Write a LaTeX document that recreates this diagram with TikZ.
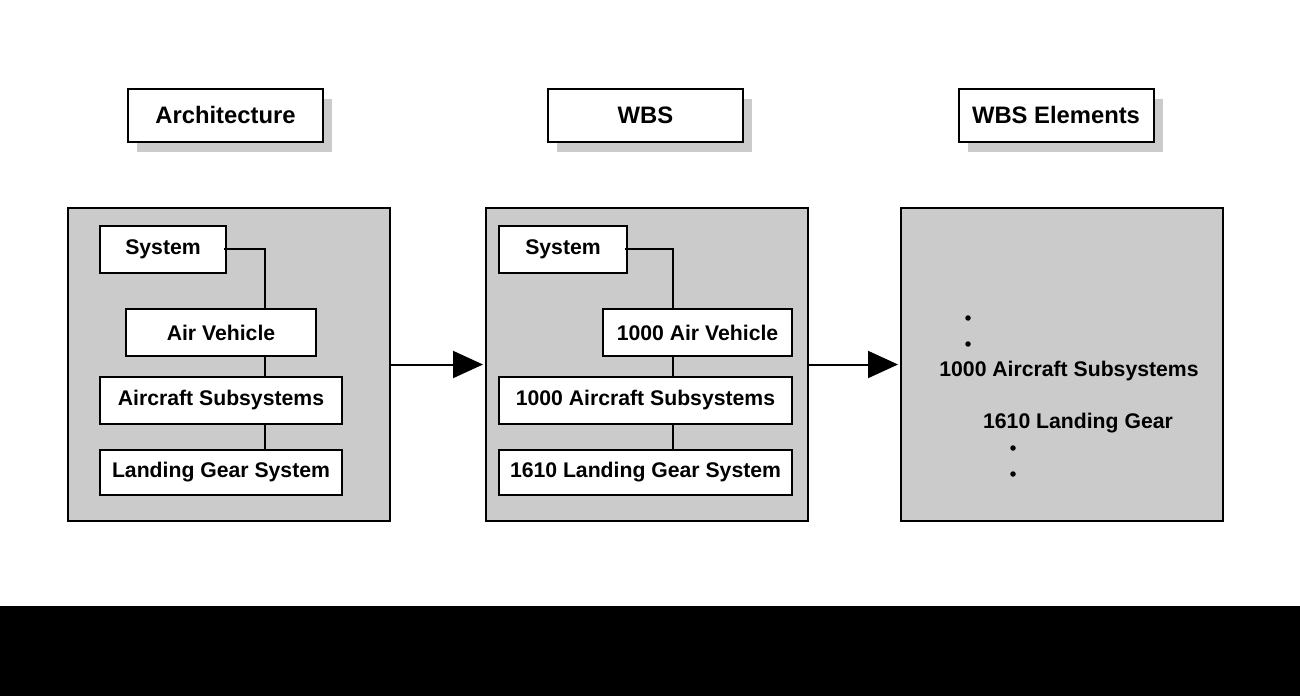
\documentclass[tikz,border=0pt]{standalone}
\usepackage{fontspec}
\setmainfont{Liberation Sans}
\usetikzlibrary{arrows.meta,shadows}
\definecolor{panelgray}{HTML}{CBCBCB}
\begin{document}
\begin{tikzpicture}[x=1pt,y=-1pt,
  titlebox/.style={draw=black,line width=2pt,fill=white,inner sep=0pt,
    minimum width=195pt,minimum height=53pt,font=\fontsize{23.8}{27}\selectfont\bfseries,
    drop shadow={shadow xshift=9pt,shadow yshift=-10pt,fill=panelgray,opacity=1}},
  panel/.style={draw=black,line width=2pt,fill=panelgray,inner sep=0pt,
    minimum width=322pt,minimum height=313pt},
  itembox/.style={draw=black,line width=2pt,fill=white,inner sep=0pt,
    minimum height=47pt,font=\fontsize{21.2}{25}\selectfont\bfseries},
  plain/.style={inner sep=0pt,font=\fontsize{21.2}{25}\selectfont\bfseries},
  link/.style={draw=black,line width=2pt},
  bigarrow/.style={draw=black,line width=2pt,-{Triangle[length=30pt,width=27pt]}},
  dotmark/.style={fill=black,circle,inner sep=0pt,minimum size=5.5pt}
]
\useasboundingbox (0,0) rectangle (1300,696);
\fill[white] (0,0) rectangle (1300,696);
\fill[black] (0,606) rectangle (1300,696);

% titles
\node[titlebox] (t1) at (225.5,115) {Architecture};
\node[titlebox] (t2) at (645.5,115) {WBS};
\node[titlebox] (t3) at (1056,115) {WBS Elements};

% panels
\node[panel] (p1) at (229,364.5) {};
\node[panel] (p2) at (647,364.5) {};
\node[panel] (p3) at (1062,364.5) {};

% left panel
\node[itembox,minimum width=126pt] (lsys) at (163,249) {System};
\node[itembox,minimum width=190pt] (lav) at (221,332.5) {Air Vehicle};
\node[itembox,minimum width=242pt] (lacs) at (221,400.5) {Aircraft Subsystems};
\node[itembox,minimum width=242pt,minimum height=45pt] (llgs) at (221,472.5) {Landing Gear System};
\coordinate (lbus) at (265,0);
\draw[link] ([xshift=-3pt]lsys.east) -| (lbus |- lav.north);
\draw[link] (lbus |- lav.south) -- (lbus |- lacs.north);
\draw[link] (lbus |- lacs.south) -- (lbus |- llgs.north);

% middle panel
\node[itembox,minimum width=128pt] (msys) at (563,249) {System};
\node[itembox,minimum width=189pt] (mav) at (697.5,332.5) {1000 Air Vehicle};
\node[itembox,minimum width=293pt] (macs) at (645.5,400.5) {1000 Aircraft Subsystems};
\node[itembox,minimum width=293pt,minimum height=45pt] (mlgs) at (645.5,472.5) {1610 Landing Gear System};
\coordinate (mbus) at (673,0);
\draw[link] ([xshift=-3pt]msys.east) -| (mbus |- mav.north);
\draw[link] (mbus |- mav.south) -- (mbus |- macs.north);
\draw[link] (mbus |- macs.south) -- (mbus |- mlgs.north);

% right panel
\node[dotmark] (d1) at (968,318) {};
\node[dotmark] (d2) at (968,344) {};
\node[plain] (racs) at (1069,371) {1000 Aircraft Subsystems};
\node[plain] (rlg) at (1078,423) {1610 Landing Gear};
\node[dotmark] (d3) at (1013,448) {};
\node[dotmark] (d4) at (1013,474) {};

% arrows
\draw[bigarrow] (p1.east) -- ([xshift=-2pt]p2.west);
\draw[bigarrow] (p2.east) -- ([xshift=-2pt]p3.west);
\end{tikzpicture}
\end{document}
